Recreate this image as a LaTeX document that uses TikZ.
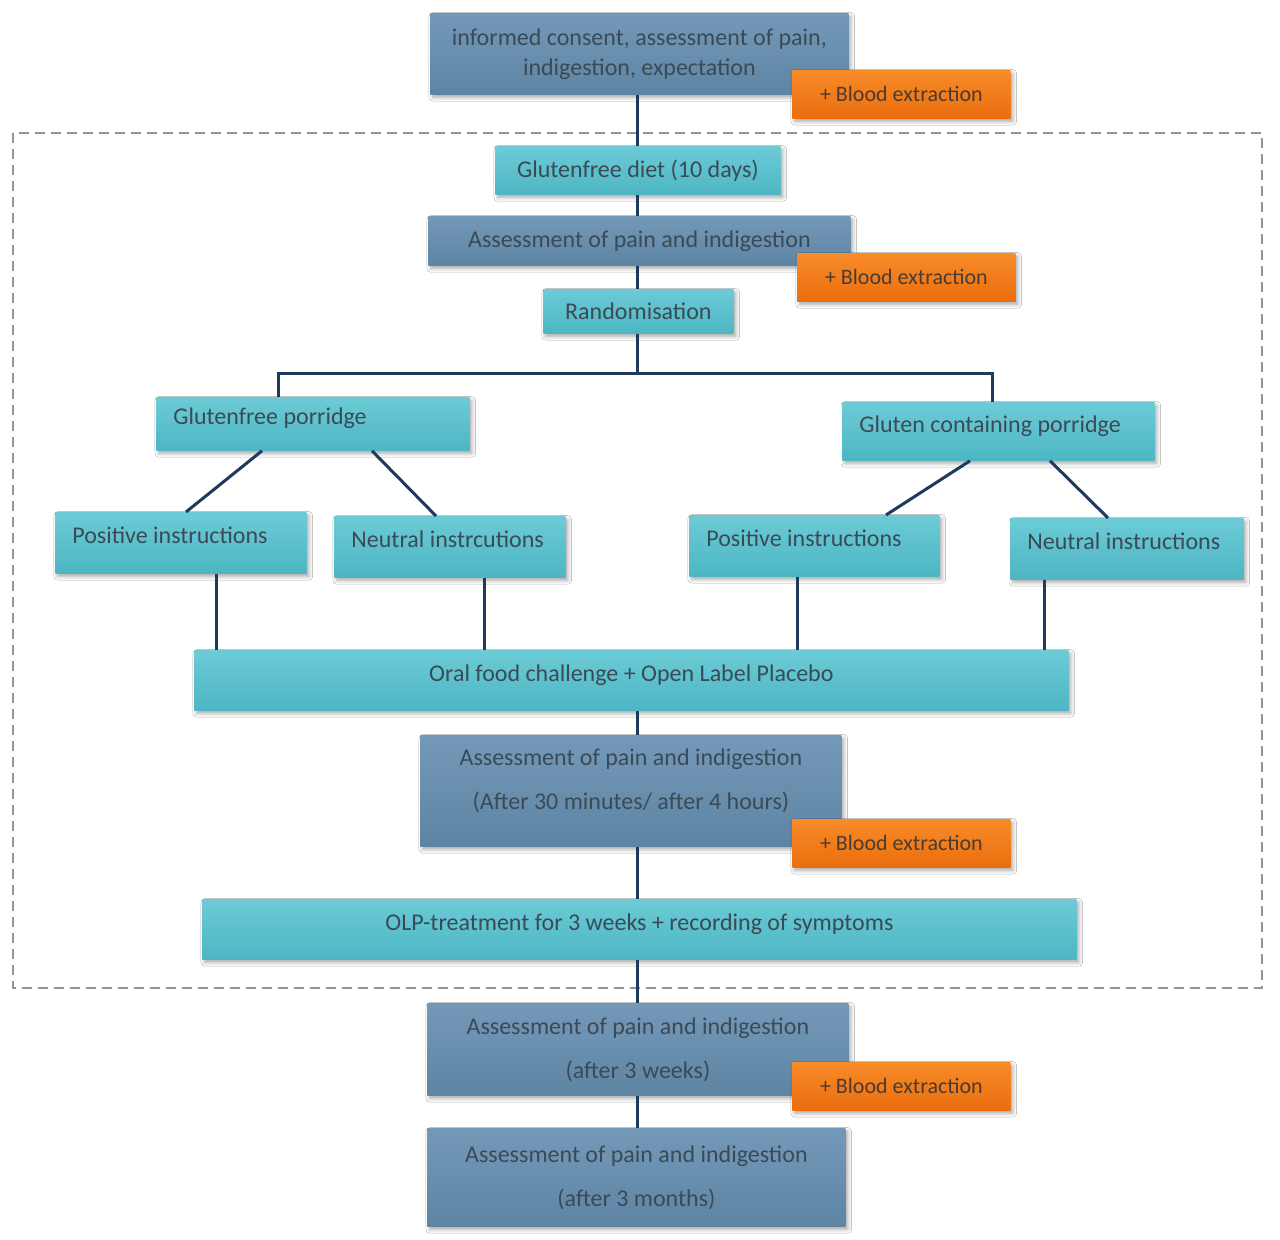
\documentclass[tikz,border=0pt]{standalone}
\usepackage{fontspec}
\setmainfont{Carlito}
\usetikzlibrary{calc,shadows.blur}
\definecolor{bluetop}{HTML}{7499B8}
\definecolor{bluebot}{HTML}{5E84A4}
\definecolor{tealtop}{HTML}{6CCBD6}
\definecolor{tealbot}{HTML}{4DB6C3}
\definecolor{orgtop}{HTML}{F78C28}
\definecolor{orgbot}{HTML}{EB6D0E}
\definecolor{txtcol}{HTML}{3A4A56}
\definecolor{orgtxt}{HTML}{4B3B30}
\definecolor{linecol}{HTML}{1F3A5C}
\definecolor{dashcol}{HTML}{8A96A0}
\tikzset{
  basebox/.style={rectangle, anchor=north west, inner sep=0pt, text=txtcol,
    font=\fontsize{12}{15}\selectfont,
    blur shadow={shadow xshift=1.2pt, shadow yshift=-1.5pt, shadow blur steps=6, shadow opacity=35}},
  bluebox/.style={basebox, top color=bluetop, bottom color=bluebot, align=center},
  tealbox/.style={basebox, top color=tealtop, bottom color=tealbot, align=center},
  tealleft/.style={basebox, top color=tealtop, bottom color=tealbot, align=flush left,
    inner xsep=8.5pt, text width=#1, raised},
  raised/.style={text height=8.5pt, text depth=7.5pt},
  orgbox/.style={basebox, top color=orgtop, bottom color=orgbot, text=orgtxt,
    font=\fontsize{11}{13}\selectfont, minimum width=109pt, minimum height=24pt},
  conn/.style={draw=linecol, line width=1.5pt},
  dashbox/.style={draw=dashcol, line width=0.8pt, dash pattern=on 5pt off 3pt},
  wide/.style={font=\fontsize{12}{22}\selectfont}
}
\begin{document}
\begin{tikzpicture}[x=0.5pt,y=-0.5pt]
\useasboundingbox (0,0) rectangle (1280,1240);
\fill[white] (0,0) rectangle (1280,1240);

\draw[dashbox] (13,133) rectangle (1262,988);

\coordinate (sp) at (637,374);

% boxes
\node[bluebox, minimum width=209pt, minimum height=40.5pt] (b1) at (430,13)
  {informed consent, assessment of pain,\\indigestion, expectation};
\node[tealbox, minimum width=142.5pt, minimum height=24pt] (diet) at (495,146)
  {Glutenfree diet (10 days)};
\node[bluebox, minimum width=211pt, minimum height=24.5pt] (b2) at (428,216)
  {Assessment of pain and indigestion};
\node[tealbox, minimum width=95pt, minimum height=22pt] (rand) at (543,289)
  {Randomisation};

\node[tealleft=139.5pt, minimum height=26.5pt] (gfp) at (156,397)
  {Glutenfree porridge};
\node[tealleft=139pt, minimum height=29pt] (gcp) at (842,402)
  {Gluten containing porridge};

\node[tealleft=108.5pt, minimum height=30.5pt] (pil) at (55,512)
  {Positive instructions};
\node[tealleft=98.5pt, minimum height=30.5pt] (nil) at (334,516)
  {Neutral instrcutions};
\node[tealleft=108pt, minimum height=30.5pt] (pir) at (689,515)
  {Positive instructions};
\node[tealleft=99.5pt, minimum height=30.5pt] (nir) at (1010,518)
  {Neutral instructions};

\node[tealbox, raised, minimum width=437pt, minimum height=30pt] (ofc) at (194,650)
  {Oral food challenge + Open Label Placebo};

\node[bluebox, wide, minimum width=210.5pt, minimum height=55.5pt] (b3) at (420,735)
  {Assessment of pain and indigestion\\(After 30 minutes/ after 4 hours)\\[-10pt]\mbox{}};

\node[tealbox, raised, minimum width=437pt, minimum height=30pt] (olp) at (202,899)
  {OLP-treatment for 3 weeks + recording of symptoms};

\node[bluebox, wide, minimum width=210.5pt, minimum height=46pt] (b4) at (427,1003)
  {Assessment of pain and indigestion\\(after 3 weeks)};
\node[bluebox, wide, minimum width=209pt, minimum height=49pt] (b5) at (427,1128)
  {Assessment of pain and indigestion\\(after 3 months)};

% orange annotations
\node[orgbox] (o1) at (792,70) {+ Blood extraction};
\node[orgbox] (o2) at (797,253) {+ Blood extraction};
\node[orgbox] (o3) at (792,819) {+ Blood extraction};
\node[orgbox] (o4) at (792,1062) {+ Blood extraction};

% connectors
\draw[conn] (b1.south -| sp) -- (diet.north -| sp);
\draw[conn] (diet.south -| sp) -- (b2.north -| sp);
\draw[conn] (b2.south -| sp) -- (rand.north -| sp);
\draw[conn] (rand.south -| sp) -- (sp);
\draw[conn] ($(gfp.north west)+(122,0)$) -- ++(0,-23) -| ($(gcp.north west)+(150,0)$);

\draw[conn] ($(gfp.south west)+(106,0)$) -- ($(pil.north west)+(131,0)$);
\draw[conn] ($(gfp.south west)+(216,0)$) -- ($(nil.north west)+(102,0)$);
\draw[conn] ($(gcp.south west)+(128,0)$) -- ($(pir.north west)+(197,0)$);
\draw[conn] ($(gcp.south west)+(208,0)$) -- ($(nir.north west)+(98,0)$);

\path ($(pil.south west)+(161,0)$) coordinate (p1)
      ($(nil.south west)+(150,0)$) coordinate (p2)
      ($(pir.south west)+(108,0)$) coordinate (p3)
      ($(nir.south west)+(34,0)$) coordinate (p4);
\draw[conn] (p1) -- (p1 |- ofc.north);
\draw[conn] (p2) -- (p2 |- ofc.north);
\draw[conn] (p3) -- (p3 |- ofc.north);
\draw[conn] (p4) -- (p4 |- ofc.north);

\draw[conn] (ofc.south -| sp) -- (b3.north -| sp);
\draw[conn] (b3.south -| sp) -- (olp.north -| sp);
\draw[conn] (olp.south -| sp) -- (b4.north -| sp);
\draw[conn] (b4.south -| sp) -- (b5.north -| sp);
\end{tikzpicture}
\end{document}
